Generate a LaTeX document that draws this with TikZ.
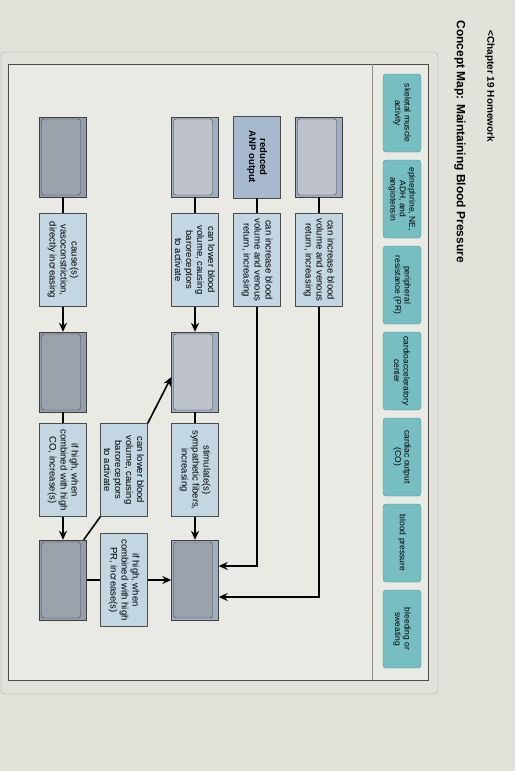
\documentclass[tikz,border=0pt]{standalone}
\usepackage{fontspec}
\setmainfont{Liberation Sans}
\usetikzlibrary{arrows.meta, positioning, calc}
\definecolor{cPage}{RGB}{226,226,219}
\definecolor{cPanel}{RGB}{234,234,228}
\definecolor{cTeal}{RGB}{118,190,194}
\definecolor{cTealDark}{RGB}{78,150,156}
\definecolor{cLink}{RGB}{194,215,226}
\definecolor{cAnp}{RGB}{167,185,207}
\definecolor{cSlot}{RGB}{160,174,196}
\definecolor{cSlotIn}{RGB}{190,194,202}
\definecolor{cSlotDark}{RGB}{146,158,176}
\definecolor{cSlotDarkIn}{RGB}{156,162,172}
\tikzset{
	% word bank tiles
	bank/.style   ={rectangle, rounded corners=3pt, rotate=-90, minimum width=78pt, minimum height=38pt, inner sep=1pt, align=center, draw=cTealDark, fill=cTeal, font=\fontsize{8.5}{9.5}\selectfont},
	% map styles
	linkbox/.style={rectangle, rotate=-90, minimum width=93pt, minimum height=47pt, inner sep=1pt, align=center, draw=black!70, fill=cLink, font=\fontsize{9.5}{11}\selectfont},
	anp/.style    ={rectangle, rotate=-90, minimum width=82pt, minimum height=47pt, inner sep=1pt, align=center, draw=black!70, fill=cAnp, font=\bfseries\fontsize{9.5}{11}\selectfont},
	slot/.style   ={rectangle, minimum width=47pt, minimum height=80pt, draw=black!75, fill=cSlot,
		path picture={\draw[rounded corners=2.5pt, draw=black!75, fill=#1] ([shift={(2pt,-2pt)}]path picture bounding box.north west) rectangle ([shift={(-6pt,2pt)}]path picture bounding box.south east);}},
	slot/.default=cSlotIn,
	conn/.style   ={line width=1.6pt},
	arr/.style    ={line width=1.6pt, -{Stealth[length=9pt, width=8pt]}},
}
\begin{document}
\begin{tikzpicture}[x=1pt, y=-1pt]
	% page and panel
	\fill[cPage] (0,0) rectangle (515,771);
	\useasboundingbox (0,0) rectangle (515,771);
	\draw[black!35, rounded corners=4pt] (1,52) rectangle (438,694);
	\draw[black!70, fill=cPanel] (8,64) rectangle (428,680);
	\draw[black!45] (372,64) -- (372,680);
	% heading
	\node[rotate=-90, anchor=west, font=\bfseries\fontsize{10}{12}\selectfont] (chap) at (490,27) {<Chapter 19 Homework};
	\node[rotate=-90, anchor=west, font=\bfseries\fontsize{12}{14}\selectfont] (title) at (460,17) {Concept Map: Maintaining Blood Pressure};
	% word bank
	\node[bank] (wSkel) at (402,113) {skeletal muscle\\activity};
	\node[bank] (wEpi) at (402,199) {epinephrine, NE,\\ADH, and\\angiotensin};
	\node[bank] (wPR) at (402,285) {peripheral\\resistance (PR)};
	\node[bank] (wCard) at (402,371) {cardioacceleratory\\center};
	\node[bank] (wCO) at (402,457) {cardiac output\\(CO)};
	\node[bank] (wBP) at (402,543) {blood pressure};
	\node[bank] (wBleed) at (402,629) {bleeding or\\sweating};
	% right column
	\node[slot] (sA1) at (319,157) {};
	\node[linkbox] (lA1) at (319,260) {can increase blood\\volume and venous\\return, increasing};
	\node[anp] (nAnp) at (257,157) {reduced\\ANP output};
	\node[linkbox] (lB1) at (257,260) {can increase blood\\volume and venous\\return, increasing};
	% middle column
	\node[slot] (sC1) at (195,157) {};
	\node[linkbox] (lC1) at (195,260) {can lower blood\\volume, causing\\baroreceptors\\to activate};
	\node[slot] (sC2) at (195,372) {};
	\node[linkbox] (lC2) at (195,470) {stimulate(s)\\sympathetic fibers,\\increasing};
	\node[slot=cSlotDarkIn] (sC3) at (195,580) {};
	\node[linkbox] (lM1) at (124,470) {can lower blood\\volume, causing\\baroreceptors\\to activate};
	\node[linkbox] (lM2) at (124,580) {if high, when\\combined with high\\PR, increase(s)};
	% left column
	\node[slot=cSlotDarkIn, fill=cSlotDark] (sD1) at (63,157) {};
	\node[linkbox] (lD1) at (63,260) {cause(s)\\vasoconstriction,\\directly increasing};
	\node[slot=cSlotDarkIn, fill=cSlotDark] (sD2) at (63,372) {};
	\node[linkbox] (lD2) at (63,470) {if high, when\\combined with high\\CO, increase(s)};
	\node[slot=cSlotDarkIn, fill=cSlotDark] (sD3) at (63,580) {};
	% connectors
	\draw[conn] (sA1) -- (lA1);
	\draw[conn] (nAnp) -- (lB1);
	\draw[conn] (sC1) -- (lC1);
	\draw[conn] (sD1) -- (lD1);
	\draw[arr] (lC1) -- (sC2);
	\draw[arr] (lD1) -- (sD2);
	\draw[conn] (sC2) -- (lC2);
	\draw[arr] (lC2) -- (sC3);
	\draw[conn] (sD2) -- (lD2);
	\draw[arr] (lD2) -- (sD3);
	\draw[conn] (sD3) -- (lM2);
	\draw[arr] (lM2) -- (sC3);
	\draw[conn] ([xshift=-3pt]sD3.north east) -- (lM1.south east);
	\draw[arr] (lM1.north west) -- ([yshift=-5pt]sC2.west);
	\draw[arr] (lB1) |- ([yshift=14pt]sC3.east);
	\draw[arr] (lA1) |- ([yshift=-17pt]sC3.east);
\end{tikzpicture}
\end{document}
